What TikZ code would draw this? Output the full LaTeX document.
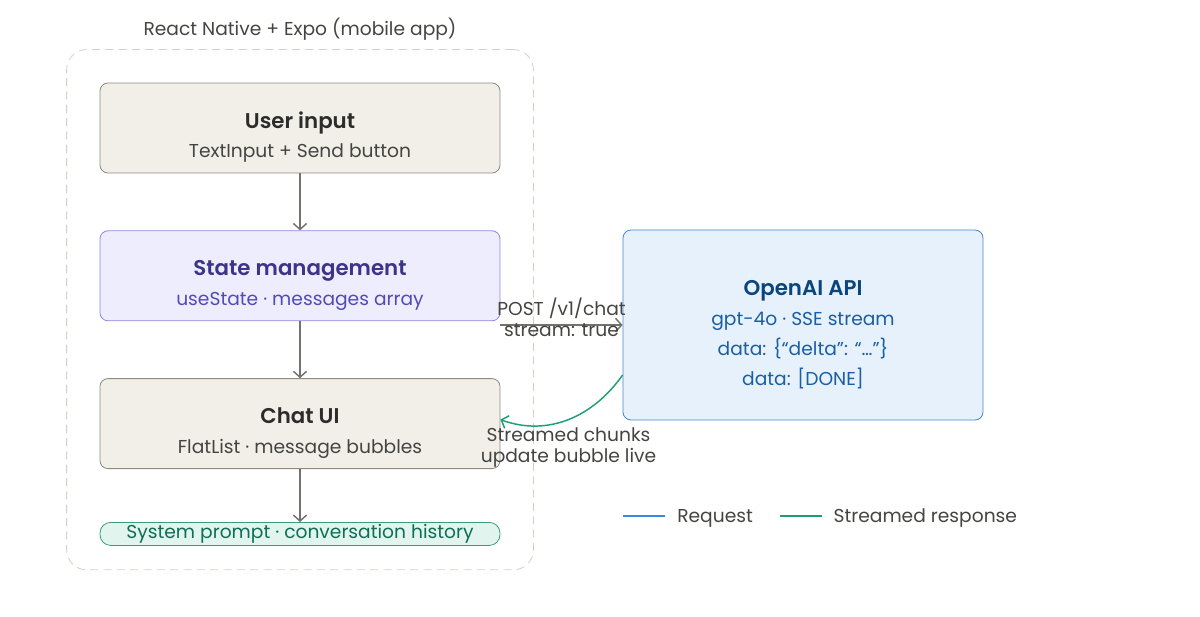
\documentclass[tikz,border=0pt]{standalone}
\usepackage{fontspec}
\setmainfont{Poppins}[BoldFont={* SemiBold}]
\usetikzlibrary{arrows.meta,positioning,fit}
\definecolor{sand}{HTML}{F1EFE8}
\definecolor{sandline}{HTML}{8C8A82}
\definecolor{ink}{HTML}{2C2C2A}
\definecolor{inksoft}{HTML}{444441}
\definecolor{lav}{HTML}{EEEDFE}
\definecolor{lavline}{HTML}{8F86E6}
\definecolor{lavink}{HTML}{3C3489}
\definecolor{lavsoft}{HTML}{534AB7}
\definecolor{mint}{HTML}{E1F5EE}
\definecolor{mintline}{HTML}{3B9C7A}
\definecolor{mintink}{HTML}{0F6E56}
\definecolor{sky}{HTML}{E6F1FB}
\definecolor{skyline}{HTML}{4A86C8}
\definecolor{skyink}{HTML}{0C447C}
\definecolor{skysoft}{HTML}{185FA5}
\definecolor{arrowgray}{HTML}{73726C}
\definecolor{streamgreen}{HTML}{1D9E75}
\definecolor{reqblue}{HTML}{378ADD}
\definecolor{dashgray}{HTML}{D3D1C7}
\newcommand{\boxtitle}[2]{{\fontsize{16pt}{22pt}\selectfont\bfseries\color{#1}\rule{0pt}{26pt}#2}}

\begin{document}
\begin{tikzpicture}[>={Straight Barb[length=4.5pt,width=10pt]},node distance=42.75pt,
 font=\fontsize{14pt}{22pt}\selectfont,
 box/.style={draw=sandline,rounded corners=6pt,fill=sand,align=center,text=inksoft,
  minimum width=300pt,minimum height=67.5pt,line width=0.6pt},
 statebox/.style={box,draw=lavline,fill=lav,text=lavsoft},
 ctx/.style={draw=mintline,fill=mint,text=mintink,rounded corners=8pt,
  minimum width=300pt,minimum height=17.25pt,inner sep=0pt,line width=0.6pt},
 api/.style={box,draw=skyline,fill=sky,text=skysoft,
  minimum width=270pt,minimum height=142.5pt,
  font=\fontsize{14pt}{22.5pt}\selectfont},
 group/.style={draw=dashgray,dashed,dash pattern=on 6pt off 4pt,rounded corners=15pt,
  line width=0.6pt},
 lbl/.style={text=inksoft,align=center,inner sep=1pt,
  font=\fontsize{14pt}{15.75pt}\selectfont},
 flow/.style={draw=arrowgray,line width=1.1pt},
 resp/.style={draw=streamgreen,line width=1.1pt},
 reqline/.style={draw=reqblue,line width=1.1pt}]
\useasboundingbox (0,0) rectangle (900pt,-462.75pt);
\node[box] (user) at (225pt,-96pt) {\boxtitle{ink}{User input}\\TextInput + Send button};
\node[statebox,below=of user] (state) {\boxtitle{lavink}{State management}\\useState · messages array};
\node[box,below=of state] (chat) {\boxtitle{ink}{Chat UI}\\FlatList · message bubbles};
\node[ctx,below=39.75pt of chat] (sys) {System prompt · conversation history};
\node[api] (api) at (602.25pt,-243.75pt) {\boxtitle{skyink}{OpenAI API}\\gpt-4o · SSE stream\\
 data: \{“delta”: “…”\}\\data: [DONE]};
% app container
\node[group,fit={([yshift=6.75pt]user.north west)(sys.south east)},
 inner xsep=24.75pt,inner ysep=18pt] (app) {};
\node[lbl] (applbl) at ([yshift=15pt]app.north) {React Native + Expo (mobile app)};
\draw[flow,->] (user) -- (state);
\draw[flow,->] (state) -- (chat);
\draw[flow,->] (chat) -- (sys);
\draw[flow,->] (state.south east |- api.west) -- node[lbl,yshift=6pt]
 {POST /v1/chat\\stream: true} (api.west);
\draw[resp,->] ([yshift=-37.5pt]api.west) to[out=235,in=-20] node[lbl,below=4.5pt]
 {Streamed chunks\\update bubble live} ([yshift=3pt]chat.east);
% legend
\coordinate (reqa) at (467.25pt,-387pt);
\coordinate[right=31.5pt of reqa] (reqb);
\node[lbl,right=8pt of reqb,yshift=-1.5pt] (reqtxt) {Request};
\coordinate (respa) at (585pt,-387pt);
\coordinate[right=31.5pt of respa] (respb);
\node[lbl,right=7.5pt of respb,yshift=-1.5pt] (resptxt) {Streamed response};
\draw[reqline] (reqa) -- (reqb);
\draw[resp] (respa) -- (respb);
\end{tikzpicture}
\end{document}
